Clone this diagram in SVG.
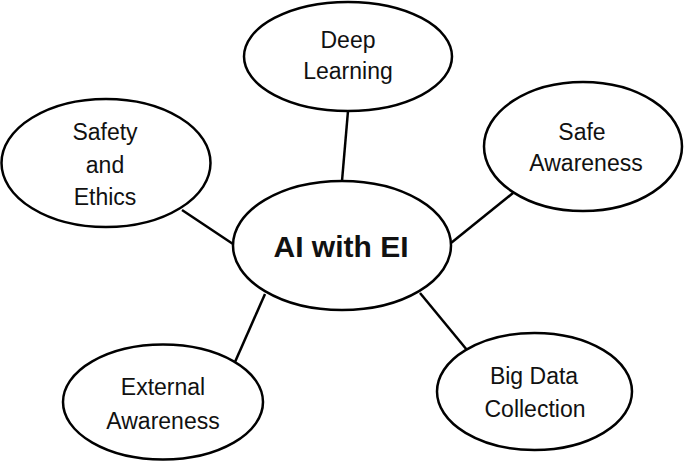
<svg xmlns="http://www.w3.org/2000/svg" width="685" height="463" viewBox="0 0 685 463">
<style>
.node ellipse{fill:#fff;stroke:#000;stroke-width:2.5}
.lbl{font-family:"Liberation Sans",Arial,sans-serif;font-size:23px;fill:#111;text-anchor:middle}
.main{font-family:"Liberation Sans",Arial,sans-serif;font-size:30px;font-weight:bold;fill:#111;text-anchor:middle}
#connectors line{stroke:#000;stroke-width:2.5}
</style>
<rect width="685" height="463" fill="#fff"/>
<g id="connectors">
<line x1="348" y1="111" x2="342" y2="181"/>
<line x1="182" y1="210" x2="233" y2="244"/>
<line x1="513" y1="193" x2="451" y2="243"/>
<line x1="265" y1="294" x2="235" y2="362"/>
<line x1="420" y1="293" x2="467" y2="350"/>
</g>
<g id="deep-learning" class="node">
<ellipse cx="348" cy="56.5" rx="104" ry="54.5"/>
<text class="lbl" x="348" y="48">Deep</text>
<text class="lbl" x="348" y="79">Learning</text>
</g>
<g id="safety-ethics" class="node">
<ellipse cx="106" cy="163" rx="104.5" ry="64"/>
<text class="lbl" x="105" y="140">Safety</text>
<text class="lbl" x="105" y="173">and</text>
<text class="lbl" x="105" y="205">Ethics</text>
</g>
<g id="safe-awareness" class="node">
<ellipse cx="583" cy="146.5" rx="99" ry="64.5"/>
<text class="lbl" x="582" y="140">Safe</text>
<text class="lbl" x="586" y="171">Awareness</text>
</g>
<g id="center" class="node">
<ellipse cx="342" cy="245.5" rx="109" ry="64.5"/>
<text class="main" x="341" y="257">AI with EI</text>
</g>
<g id="external-awareness" class="node">
<ellipse cx="163" cy="402" rx="100" ry="57.5"/>
<text class="lbl" x="163" y="395">External</text>
<text class="lbl" x="163" y="429">Awareness</text>
</g>
<g id="big-data" class="node">
<ellipse cx="534.5" cy="391.5" rx="97.5" ry="58.5"/>
<text class="lbl" x="534" y="384">Big Data</text>
<text class="lbl" x="535" y="417">Collection</text>
</g>
</svg>
